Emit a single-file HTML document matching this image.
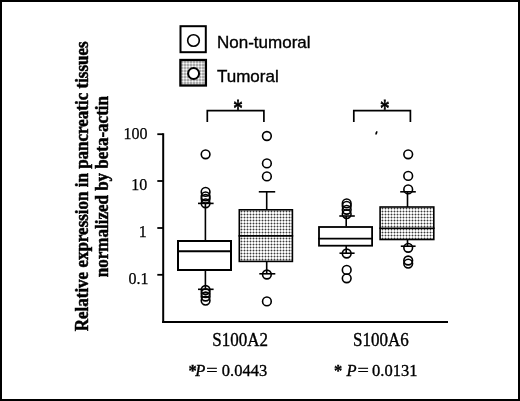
<!DOCTYPE html>
<html><head><meta charset="utf-8"><title>S100A2 and S100A6 expression</title>
<style>
html,body{margin:0;padding:0;background:#fff;}
svg{display:block;}
.tl{font-family:"Liberation Serif",serif;font-size:16px;stroke:#000;stroke-width:0.25px;}
.cl{font-family:"Liberation Serif",serif;font-size:17px;stroke:#000;stroke-width:0.35px;}
.pv{font-family:"Liberation Serif",serif;font-size:16.5px;stroke:#000;stroke-width:0.35px;}
.pa{font-weight:bold;}
.ast{font-family:"Liberation Serif",serif;font-size:19px;stroke:#000;stroke-width:0.6px;}
.lg{font-family:"Liberation Sans",sans-serif;font-size:17px;stroke:#000;stroke-width:0.35px;}
.yl{font-family:"Liberation Serif",serif;font-size:17px;font-weight:bold;stroke:#000;stroke-width:0.45px;}
</style></head>
<body>
<svg width="520" height="401" viewBox="0 0 520 401">
<defs>
<pattern id="dots" width="3" height="3" patternUnits="userSpaceOnUse">
<rect width="3" height="3" fill="#fafafa"/>
<rect x="1" y="0" width="1" height="3" fill="#b4b4b4"/>
<rect x="0" y="1" width="3" height="1" fill="#b4b4b4"/>
<rect x="1" y="1" width="1" height="1" fill="#3a3a3a"/>
</pattern>
<pattern id="dots2" width="3" height="3" patternUnits="userSpaceOnUse" x="0.5" y="0.5">
<rect width="3" height="3" fill="#fafafa"/>
<rect x="1" y="0" width="1" height="3" fill="#b4b4b4"/>
<rect x="0" y="1" width="3" height="1" fill="#b4b4b4"/>
<rect x="1" y="1" width="1" height="1" fill="#444"/>
</pattern>
</defs>
<rect width="520" height="401" fill="#fff"/>
<rect x="1" y="1" width="518" height="399" fill="none" stroke="#000" stroke-width="2"/>
<line x1="163.2" y1="133.2" x2="163.2" y2="323" stroke="#000" stroke-width="2"/>
<line x1="162.2" y1="322" x2="448" y2="322" stroke="#000" stroke-width="2"/>
<line x1="157.3" y1="134.2" x2="163" y2="134.2" stroke="#000" stroke-width="1.8"/>
<line x1="157.3" y1="181" x2="163" y2="181" stroke="#000" stroke-width="1.8"/>
<line x1="157.3" y1="228" x2="163" y2="228" stroke="#000" stroke-width="1.8"/>
<line x1="157.3" y1="274.8" x2="163" y2="274.8" stroke="#000" stroke-width="1.8"/>
<line x1="205.4" y1="203.4" x2="205.4" y2="240" stroke="#000" stroke-width="1.6"/>
<line x1="205.4" y1="271" x2="205.4" y2="289.3" stroke="#000" stroke-width="1.6"/>
<line x1="198" y1="203.4" x2="213.6" y2="203.4" stroke="#000" stroke-width="1.6"/>
<line x1="198" y1="289.3" x2="213.6" y2="289.3" stroke="#000" stroke-width="1.6"/>
<rect x="178.0" y="241.0" width="53" height="29" fill="#fff" stroke="#000" stroke-width="2"/><line x1="177" y1="251.2" x2="232" y2="251.2" stroke="#000" stroke-width="2"/>
<circle cx="205.6" cy="154.3" r="4.35" fill="none" stroke="#000" stroke-width="1.6"/>
<circle cx="205.6" cy="191.9" r="4.35" fill="none" stroke="#000" stroke-width="1.6"/>
<circle cx="205.6" cy="196.3" r="4.35" fill="none" stroke="#000" stroke-width="1.6"/>
<circle cx="205.6" cy="198.8" r="4.35" fill="none" stroke="#000" stroke-width="1.6"/>
<circle cx="205.6" cy="203.3" r="4.35" fill="none" stroke="#000" stroke-width="1.6"/>
<circle cx="205.6" cy="290" r="4.35" fill="none" stroke="#000" stroke-width="1.6"/>
<circle cx="205.6" cy="293.2" r="4.35" fill="none" stroke="#000" stroke-width="1.6"/>
<circle cx="205.6" cy="296.5" r="4.35" fill="none" stroke="#000" stroke-width="1.6"/>
<circle cx="205.6" cy="300.6" r="4.35" fill="none" stroke="#000" stroke-width="1.6"/>
<line x1="266.7" y1="191.8" x2="266.7" y2="209.5" stroke="#000" stroke-width="1.6"/>
<line x1="266.7" y1="261.5" x2="266.7" y2="273.8" stroke="#000" stroke-width="1.6"/>
<line x1="258.8" y1="191.8" x2="275.2" y2="191.8" stroke="#000" stroke-width="1.6"/>
<line x1="259.3" y1="273.8" x2="275.3" y2="273.8" stroke="#000" stroke-width="1.6"/>
<rect x="239.3" y="209.8" width="53.09999999999999" height="51.59999999999999" fill="url(#dots)" stroke="#000" stroke-width="1.6"/><line x1="238.5" y1="235.9" x2="293.2" y2="235.9" stroke="#000" stroke-width="1.6"/>
<circle cx="266.9" cy="136" r="4.35" fill="none" stroke="#000" stroke-width="1.6"/>
<circle cx="266.9" cy="163.4" r="4.35" fill="none" stroke="#000" stroke-width="1.6"/>
<circle cx="266.9" cy="176.4" r="4.35" fill="none" stroke="#000" stroke-width="1.6"/>
<circle cx="266.9" cy="274.5" r="4.35" fill="none" stroke="#000" stroke-width="1.6"/>
<circle cx="266.9" cy="301.4" r="4.35" fill="none" stroke="#000" stroke-width="1.6"/>
<line x1="346.2" y1="216" x2="346.2" y2="226.5" stroke="#000" stroke-width="1.6"/>
<line x1="346.2" y1="246" x2="346.2" y2="253.2" stroke="#000" stroke-width="1.6"/>
<line x1="339.3" y1="216" x2="354.8" y2="216" stroke="#000" stroke-width="1.6"/>
<line x1="339.5" y1="253.2" x2="354.6" y2="253.2" stroke="#000" stroke-width="1.6"/>
<rect x="319.0" y="227.0" width="53.09999999999998" height="18.7" fill="#fff" stroke="#000" stroke-width="1.8"/><line x1="318.1" y1="238.6" x2="373" y2="238.6" stroke="#000" stroke-width="1.8"/>
<circle cx="346.7" cy="203.4" r="4.35" fill="none" stroke="#000" stroke-width="1.6"/>
<circle cx="346.7" cy="205.9" r="4.35" fill="none" stroke="#000" stroke-width="1.6"/>
<circle cx="346.7" cy="209.8" r="4.35" fill="none" stroke="#000" stroke-width="1.6"/>
<circle cx="346.7" cy="214.1" r="4.35" fill="none" stroke="#000" stroke-width="1.6"/>
<circle cx="346.7" cy="253.5" r="4.35" fill="none" stroke="#000" stroke-width="1.6"/>
<circle cx="346.7" cy="269.9" r="4.35" fill="none" stroke="#000" stroke-width="1.6"/>
<circle cx="346.7" cy="278.3" r="4.35" fill="none" stroke="#000" stroke-width="1.6"/>
<line x1="407.5" y1="191.8" x2="407.5" y2="207" stroke="#000" stroke-width="1.6"/>
<line x1="407.5" y1="239.5" x2="407.5" y2="246.2" stroke="#000" stroke-width="1.6"/>
<line x1="400.2" y1="191.8" x2="415.8" y2="191.8" stroke="#000" stroke-width="1.6"/>
<line x1="400.8" y1="246.2" x2="415.6" y2="246.2" stroke="#000" stroke-width="1.6"/>
<rect x="380.1" y="207.0" width="53.70000000000001" height="32.50000000000002" fill="url(#dots)" stroke="#000" stroke-width="1.6"/><line x1="379.3" y1="228.2" x2="434.6" y2="228.2" stroke="#000" stroke-width="1.6"/>
<circle cx="408.2" cy="154.3" r="4.35" fill="none" stroke="#000" stroke-width="1.6"/>
<circle cx="408.2" cy="175.9" r="4.35" fill="none" stroke="#000" stroke-width="1.6"/>
<circle cx="408.2" cy="189.4" r="4.35" fill="none" stroke="#000" stroke-width="1.6"/>
<circle cx="408.2" cy="247.8" r="4.35" fill="none" stroke="#000" stroke-width="1.6"/>
<circle cx="408.2" cy="260.5" r="4.35" fill="none" stroke="#000" stroke-width="1.6"/>
<circle cx="408.2" cy="263.6" r="4.35" fill="none" stroke="#000" stroke-width="1.6"/>
<path d="M207.3 122V110.6H263.9V122" fill="none" stroke="#000" stroke-width="1.7"/>
<text transform="translate(238.0 117.0) scale(1 1.3)" text-anchor="middle" class="ast">*</text>
<path d="M353.8 122V110.6H410.4V122" fill="none" stroke="#000" stroke-width="1.7"/>
<text transform="translate(384.7 117.0) scale(1 1.3)" text-anchor="middle" class="ast">*</text>
<ellipse cx="376.4" cy="132.9" rx="0.9" ry="2" transform="rotate(20 376.4 132.9)" fill="#000"/>
<text x="123.4" y="139.4" class="tl">100</text>
<text x="131.3" y="190.4" class="tl">10</text>
<text x="138.8" y="237.4" class="tl">1</text>
<text x="128.6" y="284.2" class="tl">0.1</text>
<text transform="translate(212.3 346) scale(1 1.06)" class="cl">S100A2</text>
<text transform="translate(353.0 346) scale(1 1.06)" class="cl">S100A6</text>
<text x="188.5" y="376" class="pv pa">*</text>
<text x="195.3" y="376" class="pv" font-style="italic">P</text>
<text transform="translate(206.3 376.4) scale(1.22 1)" class="pv">=</text>
<text transform="translate(221.8 376) scale(1 1.05)" class="pv">0.0443</text>
<text x="334.1" y="376" class="pv pa">*</text>
<text x="346.4" y="376" class="pv" font-style="italic">P</text>
<text transform="translate(357.4 376.4) scale(1.22 1)" class="pv">=</text>
<text transform="translate(372.1 376) scale(1 1.05)" class="pv">0.0131</text>
<rect x="180.5" y="26.2" width="25.3" height="26" fill="#fff" stroke="#000" stroke-width="2"/>
<circle cx="193.5" cy="40.5" r="5.8" fill="none" stroke="#000" stroke-width="1.6"/>
<rect x="180.4" y="60" width="25.5" height="25.5" fill="url(#dots2)" stroke="#000" stroke-width="2.3"/>
<circle cx="193.6" cy="73.5" r="5.5" fill="#fff" stroke="#000" stroke-width="2"/>
<text x="217" y="47.5" class="lg">Non-tumoral</text>
<text x="217" y="82" class="lg">Tumoral</text>
<text transform="translate(87.9 186.3) rotate(-90) scale(1 1.06)" text-anchor="middle" class="yl">Relative expression in pancreatic tissues</text>
<text transform="translate(107.6 186.6) rotate(-90) scale(1 1.06)" text-anchor="middle" class="yl">normalized by beta-actin</text>
</svg>
</body></html>
